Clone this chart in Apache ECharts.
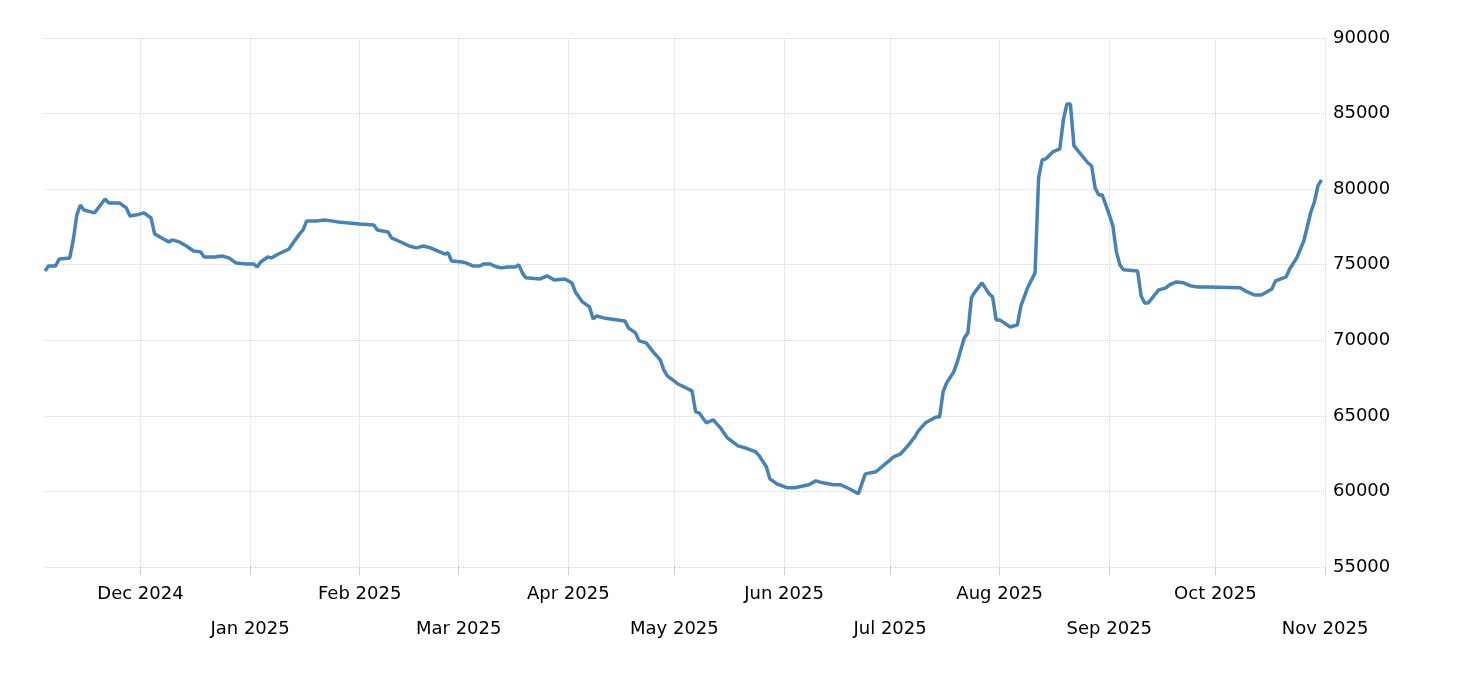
<!DOCTYPE html>
<html>
<head>
<meta charset="utf-8">
<script src="https://cdn.jsdelivr.net/npm/echarts@6/dist/echarts.min.js"></script>
<style>html,body{margin:0;background:#fff}#main{width:1460px;height:680px}</style>
</head>
<body>
<div id="main"></div>
<script>
// prices
const pointDates = [
  '2024-11-04','2024-11-05','2024-11-07','2024-11-08','2024-11-11','2024-11-12','2024-11-13','2024-11-14','2024-11-15','2024-11-18','2024-11-21','2024-11-22','2024-11-25','2024-11-27','2024-11-28','2024-11-30',
  '2024-12-02','2024-12-04','2024-12-05','2024-12-07','2024-12-09','2024-12-10','2024-12-12','2024-12-14','2024-12-16','2024-12-18','2024-12-19','2024-12-22','2024-12-24','2024-12-26','2024-12-28','2024-12-31',
  '2025-01-02','2025-01-03','2025-01-04','2025-01-06','2025-01-07','2025-01-09','2025-01-12','2025-01-13','2025-01-15','2025-01-16','2025-01-17','2025-01-20','2025-01-22','2025-01-24','2025-01-26','2025-01-29',
  '2025-02-01','2025-02-05','2025-02-06','2025-02-09','2025-02-10','2025-02-12','2025-02-15','2025-02-17','2025-02-19','2025-02-21','2025-02-23','2025-02-25','2025-02-26','2025-02-27',
  '2025-03-02','2025-03-03','2025-03-05','2025-03-07','2025-03-08','2025-03-10','2025-03-11','2025-03-12','2025-03-13','2025-03-15','2025-03-17','2025-03-18','2025-03-19','2025-03-20','2025-03-24','2025-03-26','2025-03-27','2025-03-28','2025-03-31',
  '2025-04-02','2025-04-03','2025-04-05','2025-04-07','2025-04-08','2025-04-09','2025-04-10','2025-04-11','2025-04-17','2025-04-18','2025-04-20','2025-04-21','2025-04-23','2025-04-25','2025-04-27','2025-04-28','2025-04-29',
  '2025-05-02','2025-05-06','2025-05-07','2025-05-08','2025-05-10','2025-05-12','2025-05-14','2025-05-16','2025-05-19','2025-05-21','2025-05-24','2025-05-25','2025-05-27','2025-05-28','2025-05-30',
  '2025-06-02','2025-06-04','2025-06-08','2025-06-10','2025-06-12','2025-06-15','2025-06-17','2025-06-20','2025-06-22','2025-06-24','2025-06-27','2025-06-30',
  '2025-07-02','2025-07-04','2025-07-06','2025-07-08','2025-07-09','2025-07-11','2025-07-14','2025-07-15','2025-07-16','2025-07-17','2025-07-19','2025-07-20','2025-07-22','2025-07-23','2025-07-24','2025-07-25','2025-07-27','2025-07-29','2025-07-30','2025-07-31',
  '2025-08-01','2025-08-04','2025-08-06','2025-08-07','2025-08-09','2025-08-11','2025-08-12','2025-08-13','2025-08-14','2025-08-16','2025-08-18','2025-08-19','2025-08-20','2025-08-21','2025-08-22','2025-08-26','2025-08-27','2025-08-28','2025-08-29','2025-08-30',
  '2025-09-01','2025-09-02','2025-09-03','2025-09-04','2025-09-05','2025-09-09','2025-09-10','2025-09-11','2025-09-12','2025-09-15','2025-09-17','2025-09-18','2025-09-20','2025-09-22','2025-09-24','2025-09-26','2025-09-29',
  '2025-10-08','2025-10-10','2025-10-12','2025-10-14','2025-10-17','2025-10-18','2025-10-21','2025-10-22','2025-10-24','2025-10-26','2025-10-28','2025-10-29','2025-10-30','2025-10-31','2025-11-01'
];
const pointValues = [
  74590,74920,74920,75380,75450,76640,78300,78950,78620,78430,79350,79090,79090,78760,78230,78300,
  78430,78090,77040,76770,76510,76640,76510,76240,75910,75850,75510,75510,75580,75450,75120,75050,
  75050,74850,75180,75510,75450,75710,76040,76380,77040,77300,77900,77900,77960,77900,77830,77760,
  77700,77630,77300,77170,76770,76570,76240,76110,76240,76110,75910,75710,75780,75250,
  75180,75120,74920,74920,75050,75050,74920,74850,74790,74850,74850,74990,74460,74130,74060,74260,74130,73990,
  74060,73800,73200,72540,72210,71410,71610,71550,71480,71280,70820,70490,69960,69830,69230,68700,68040,
  67640,67110,66650,65260,65200,64540,64730,64210,63540,63010,62880,62620,62350,61630,60830,
  60500,60240,60240,60440,60700,60570,60440,60440,60110,59840,61160,61300,
  61890,62290,62490,63010,63610,64010,64540,64930,64930,66580,67180,67910,68570,70160,70490,72800,73200,73800,73070,72870,
  71350,71350,70880,71020,72270,73530,74460,80740,81930,82000,82460,82660,84580,85630,85630,82870,81730,81530,80080,79620,
  79620,78300,77570,75850,74990,74660,74590,72930,72470,72470,73330,73470,73660,73860,73800,73600,73530,
  73530,73470,73200,73000,73000,73400,73930,74190,74720,75450,76570,78490,79150,80210,80610
];
const yTicks = { min: 55000, max: 90000, step: 5000 };
const monthNames = ['Jan','Feb','Mar','Apr','May','Jun','Jul','Aug','Sep','Oct','Nov','Dec'];

// daily categories from first to last date
const days = [];
for (let t = Date.UTC(2024, 10, 4); t <= Date.UTC(2025, 10, 1); t += 86400000) {
  days.push(new Date(t).toISOString().slice(0, 10));
}
const lookup = {};
pointDates.forEach((d, i) => { lookup[d] = pointValues[i]; });
const seriesData = days.map(d => (d in lookup ? lookup[d] : null));

const isMonthStart = (idx) => days[idx].endsWith('-01') && idx > 0;

var myChart = echarts.init(document.getElementById('main'));
var option = {
  animation: false,
  grid: { left: 45, right: 135, top: 38, bottom: 113 },
  xAxis: {
    type: 'category',
    data: days,
    boundaryGap: false,
    axisLine: { show: false },
    axisTick: { show: true, interval: isMonthStart, length: 8, lineStyle: { color: '#ccc' } },
    splitLine: { show: true, interval: isMonthStart, lineStyle: { color: '#d6d6d6', type: 'dotted' } },
    axisLabel: {
      interval: isMonthStart,
      margin: 10,
      hideOverlap: false,
      fontFamily: 'DejaVu Sans',
      fontSize: 18,
      color: '#000',
      lineHeight: 35,
      formatter: function (v) {
        const m = parseInt(v.slice(5, 7), 10) - 1;
        const label = monthNames[m] + ' ' + v.slice(0, 4);
        return m % 2 === 1 ? label : '\n' + label;
      }
    }
  },
  yAxis: {
    type: 'value',
    position: 'right',
    min: yTicks.min, max: yTicks.max, interval: yTicks.step,
    axisLine: { show: false },
    axisTick: { show: false },
    splitLine: { lineStyle: { color: '#d6d6d6', type: 'dotted' } },
    axisLabel: { fontFamily: 'DejaVu Sans', fontSize: 18, color: '#000', margin: 8, formatter: v => String(v) }
  },
  series: [{
    type: 'line',
    data: seriesData,
    connectNulls: true,
    showSymbol: false,
    lineStyle: { color: '#4682b4', width: 3.5 },
    itemStyle: { color: '#4682b4' }
  }]
};
myChart.setOption(option);
</script>
</body>
</html>
